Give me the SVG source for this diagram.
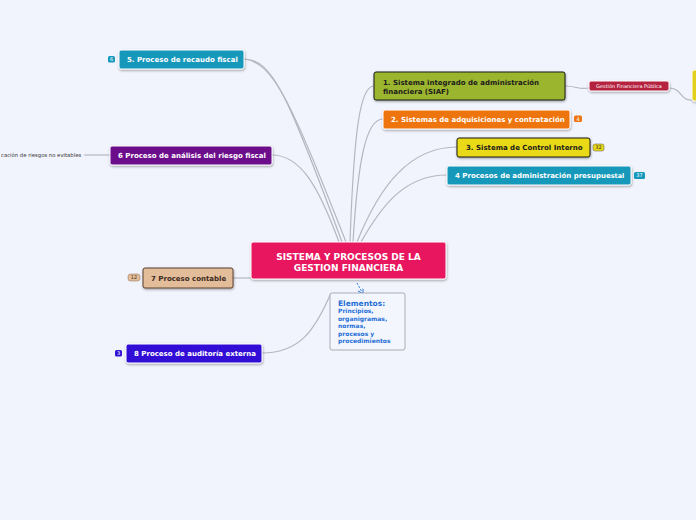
<svg xmlns="http://www.w3.org/2000/svg" width="696" height="520" viewBox="0 0 696 520">
<defs>
<filter id="sh" x="-10%" y="-30%" width="120%" height="170%">
<feDropShadow dx="0.5" dy="1.2" stdDeviation="0.8" flood-color="#000" flood-opacity="0.35"/>
</filter>
<marker id="ah" markerWidth="6" markerHeight="6" refX="3" refY="3" orient="auto" markerUnits="userSpaceOnUse">
<path d="M0,0 L5,3 L0,6" fill="none" stroke="#2f7be0" stroke-width="1"/>
</marker>
</defs>
<style>
.bg{fill:#f2f4fd}
.c{fill:none;stroke:#b4b7c0;stroke-width:1.2}
.n{filter:url(#sh);stroke:#ffffff;stroke-width:1}
.t{font-family:"DejaVu Sans",Verdana,sans-serif;font-weight:bold;font-size:7px;fill:#ffffff}
.big{font-size:9px}
.d{fill:#1b1b1b}
.br{fill:#3b2a1e}
.b{font-family:"DejaVu Sans",Verdana,sans-serif;font-size:5px;text-anchor:middle}
.s{font-family:"DejaVu Sans",Verdana,sans-serif;font-size:5px}
.e{font-family:"DejaVu Sans",Verdana,sans-serif;font-weight:bold;fill:#1f6fd6;font-size:6px}
.eh{font-size:7.5px}
</style>
<rect class="bg" x="0" y="0" width="696" height="520"/>
<g id="connectors">
<path class="c" d="M244,59 C272,59 288,95 342,242"/>
<path class="c" d="M244,59 C274,62 292,105 346,242"/>
<path class="c" d="M272,155 C300,155 318,185 339,242"/>
<path class="c" d="M374,86 C360,86 354,130 350,242"/>
<path class="c" d="M383,119 C366,119 358,160 353,242"/>
<path class="c" d="M457,147 C410,147 380,185 357,242"/>
<path class="c" d="M447,175 C405,175 382,205 361,242"/>
<path class="c" d="M233,278 L251,278"/>
<path class="c" d="M262,353 C300,353 315,330 331,293"/>
<path class="c" d="M84,155 C96,155 98,155 110,155"/>
<path class="c" d="M565,86 C577,86 578,90 589,88"/>
<path class="c" d="M669,88 C682,88 680,101 692,100"/>
<path d="M357,283 L362,292" fill="none" stroke="#2f7be0" stroke-width="1" stroke-dasharray="2,1.5" marker-end="url(#ah)"/>
</g>
<g id="central">
<rect x="251" y="242" width="195" height="37" rx="2" fill="#e8195e" class="n"/>
<text class="t big" x="348.5" y="259.5" text-anchor="middle">SISTEMA Y PROCESOS DE LA</text>
<text class="t big" x="348.5" y="270.5" text-anchor="middle">GESTION FINANCIERA</text>
</g>
<g id="n5">
<rect x="119" y="50" width="125" height="19" rx="2" fill="#1598bb" class="n"/>
<text class="t" x="127" y="62">5. Proceso de recaudo fiscal</text>
<rect x="108" y="56" width="7" height="6.5" rx="1.5" fill="#1598bb"/>
<text class="b" x="111.5" y="61.2" fill="#fff">6</text>
</g>
<g id="n6">
<rect x="110" y="146" width="162" height="19" rx="2" fill="#6c0a8c" class="n"/>
<text class="t" x="118" y="158">6 Proceso de análisis del riesgo fiscal</text>
</g>
<g id="n6a">
<text class="s" x="1" y="157" fill="#333" style="font-size:5.3px">cación de riesgos no evitables</text>
</g>
<g id="n1">
<rect x="374" y="72" width="191" height="28" rx="2" fill="#9cb52e" stroke="#1b1b1b" stroke-width="1" filter="url(#sh)"/>
<text class="t d" x="383" y="85">1. Sistema integrado de administración</text>
<text class="t d" x="383" y="93.5">financiera (SIAF)</text>
</g>
<g id="n1a">
<rect x="589" y="81" width="80" height="10" rx="2" fill="#b5213f" class="n" stroke-width="0.6"/>
<text class="s" x="629" y="88.2" text-anchor="middle" fill="#fff">Gestión Financiera Pública</text>
</g>
<g id="n1b">
<rect x="692" y="70" width="10" height="31" rx="2" fill="#e2d11a" class="n"/>
</g>
<g id="n2">
<rect x="383" y="110" width="187" height="19" rx="2" fill="#ee7511" class="n"/>
<text class="t" x="391" y="122">2. Sistemas de adquisiciones y contratación</text>
<rect x="574" y="115.5" width="8" height="6.5" rx="1.5" fill="#ee7511"/>
<text class="b" x="578" y="120.7" fill="#fff">4</text>
</g>
<g id="n3">
<rect x="457" y="138" width="133" height="19" rx="2" fill="#e9d917" stroke="#1b1b1b" stroke-width="1" filter="url(#sh)"/>
<text class="t d" x="466" y="150">3. Sistema de Control Interno</text>
<rect x="593" y="144" width="11" height="7" rx="2" fill="#e9d917" stroke="#555" stroke-width="0.5"/>
<text class="b" x="598.5" y="149.3" fill="#333">32</text>
</g>
<g id="n4">
<rect x="447" y="166" width="184" height="19" rx="2" fill="#1598bb" class="n"/>
<text class="t" x="455" y="178">4 Procesos de administración presupue<tspan style="font-size:6.5px">stal</tspan></text>
<rect x="634" y="172" width="11" height="7" rx="1.5" fill="#1598bb"/>
<text class="b" x="639.5" y="177.3" fill="#fff">37</text>
</g>
<g id="n7">
<rect x="143" y="268" width="90" height="20" rx="2" fill="#e3bd99" stroke="#5a4030" stroke-width="1" filter="url(#sh)"/>
<text class="t br" x="151" y="280.5">7 Proceso contable</text>
<rect x="128" y="274" width="12" height="7" rx="2.5" fill="#e3bd99" stroke="#8a6a50" stroke-width="0.5"/>
<text class="b" x="134" y="279.3" fill="#4a3525">12</text>
</g>
<g id="n8">
<rect x="126" y="344" width="136" height="19" rx="2" fill="#3111d6" class="n"/>
<text class="t" x="134" y="356">8 Proceso de auditoría externa</text>
<rect x="115" y="350" width="7" height="6.5" rx="1.5" fill="#3111d6"/>
<text class="b" x="118.5" y="355.2" fill="#fff">3</text>
</g>
<g id="elementos">
<rect x="330" y="293" width="75" height="57" rx="2" fill="#f4f6fe" stroke="#a9acb6" stroke-width="1"/>
<text class="e eh" x="338" y="306">Elementos:</text>
<text class="e" x="338" y="313">Principios,</text>
<text class="e" x="338" y="320.5">organigramas,</text>
<text class="e" x="338" y="328">normas,</text>
<text class="e" x="338" y="335.5">procesos y</text>
<text class="e" x="338" y="343">procedimientos</text>
</g>
</svg>
